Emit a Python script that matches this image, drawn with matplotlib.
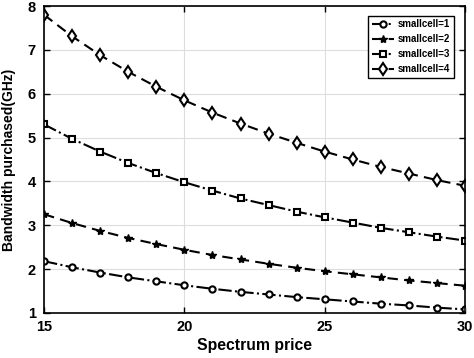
import matplotlib.pyplot as plt

plt.rcParams['font.family'] = ['Liberation Sans', 'DejaVu Sans']

price = [15, 16, 17, 18, 19, 20, 21, 22, 23, 24, 25, 26, 27, 28, 29, 30]
sc1 = [2.18, 2.04, 1.92, 1.81, 1.72, 1.63, 1.55, 1.48, 1.42, 1.36, 1.31, 1.26, 1.21, 1.17, 1.12, 1.08]
sc2 = [3.25, 3.05, 2.87, 2.71, 2.57, 2.44, 2.32, 2.22, 2.12, 2.03, 1.95, 1.88, 1.81, 1.74, 1.68, 1.62]
sc3 = [5.30, 4.97, 4.68, 4.42, 4.19, 3.98, 3.79, 3.61, 3.46, 3.31, 3.18, 3.06, 2.94, 2.84, 2.74, 2.65]
sc4 = [7.80, 7.31, 6.88, 6.50, 6.16, 5.85, 5.57, 5.32, 5.09, 4.88, 4.68, 4.50, 4.33, 4.18, 4.03, 3.90]
labels = ['smallcell=1', 'smallcell=2', 'smallcell=3', 'smallcell=4']

fig = plt.figure(figsize=(4.74, 3.58), dpi=100)
ax = fig.add_axes([0.093, 0.126, 0.888, 0.857])

ax.plot(price, sc1, '-.', marker='o', color='k', lw=1.5, ms=4.5, mfc='white', mew=1.5, label=labels[0])
ax.plot(price, sc2, linestyle=(0, (5, 3)), marker='*', color='k', lw=1.5, ms=6, mfc='k', mew=1.0, label=labels[1])
ax.plot(price, sc3, '-.', marker='s', color='k', lw=1.5, ms=4, mfc='white', mew=1.5, label=labels[2])
ax.plot(price, sc4, linestyle=(0, (5, 3)), marker='d', color='k', lw=1.5, ms=6, mfc='white', mew=1.5, label=labels[3])

ax.set_xlim(15, 30)
ax.set_ylim(1, 8)
ax.set_xticks([15, 20, 25, 30])
ax.set_yticks(range(1, 9))
ax.grid(True, color='#dddddd', lw=0.8)
ax.tick_params(direction='in', top=True, right=True, labelsize=10.5, width=1, length=4)
ax.tick_params(axis='x', pad=5)
ax.tick_params(axis='y', pad=6)
for t in ax.get_xticklabels() + ax.get_yticklabels():
    t.set_fontweight('bold')
for s in ax.spines.values():
    s.set_linewidth(1.2)

ax.set_xlabel('Spectrum price', fontsize=11.3, fontweight='bold', labelpad=3)
ax.set_ylabel('Bandwidth purchased(GHz)', fontsize=10, fontweight='bold', labelpad=8)

leg = ax.legend(loc='upper right', prop={'size': 7, 'weight': 'bold'}, fancybox=False,
                edgecolor='k', framealpha=1, handlelength=2.2, handletextpad=0.4,
                borderpad=0.4, labelspacing=0.5, bbox_to_anchor=(0.985, 0.985))
leg.get_frame().set_linewidth(1.0)

fig.savefig('out.png', dpi=100)
